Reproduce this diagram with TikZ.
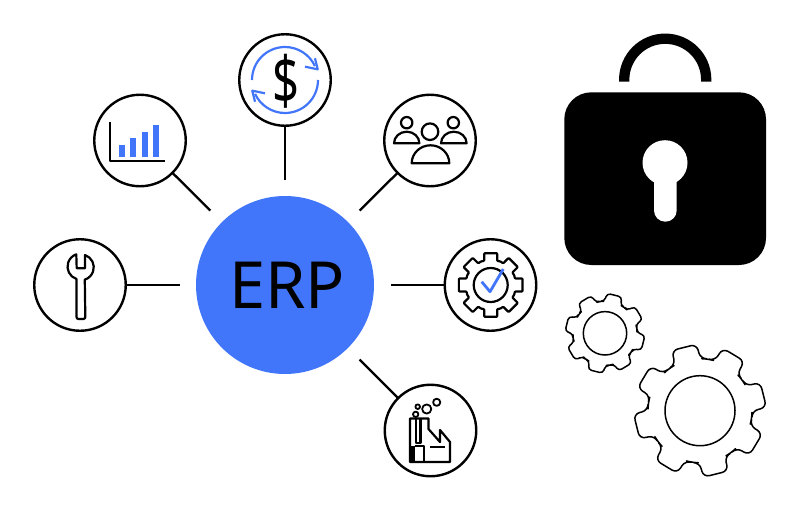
\documentclass[tikz,border=0pt]{standalone}
\usepackage{fontspec}
\setmainfont{Noto Sans}
\definecolor{erpblue}{RGB}{66,118,250}
\tikzset{
  iconring/.style={circle,draw=black,line width=2.4pt,minimum size=91.5pt,inner sep=0pt,outer sep=0pt,fill=white},
  link/.style={line width=2.3pt,black},
  ink/.style={line width=2.2pt,black,line join=round},
  blueink/.style={line width=2.2pt,erpblue,line join=round},
  geartrace/.style={line width=1.5pt,black,line join=round},
}
% #1 centre, #2 offset angle, #3 root radius, #4 tip radius, #5 base half-angle, #6 tip half-angle, #7 corner, #8 style
\newcommand{\gearshape}[8]{%
  \draw[#8,shift={(#1)},rounded corners=#7pt]
    (#2-22.5:#3+0.5)
    \foreach \k in {0,...,6}{
      -- ({#2+45*\k-#5}:#3) -- ({#2+45*\k-#6}:#4) -- ({#2+45*\k+#6}:#4) -- ({#2+45*\k+#5}:#3) -- ({#2+45*\k+22.5}:#3+0.5)
    }
    -- ({#2+315-#5}:#3) -- ({#2+315-#6}:#4) -- ({#2+315+#6}:#4) -- ({#2+315+#5}:#3) -- cycle;
}
\begin{document}
\begin{tikzpicture}[x=1pt,y=-1pt]
\useasboundingbox (0,0) rectangle (800,511);
% hub
\node[circle,fill=erpblue,minimum size=178pt,inner sep=0pt,outer sep=0pt] (erp) at (285,285) {};
\node[inner sep=0pt,font=\fontsize{65}{65}\selectfont,text=black] (erplabel) at (287,285) {ERP};
\node[circle,minimum size=211pt,inner sep=0pt,outer sep=0pt] (gap) at (285,285) {};
% rings
\node[iconring] (wrench) at (80,285) {};
\node[iconring] (chart) at (140,140.5) {};
\node[iconring] (dollar) at (285,80) {};
\node[iconring] (people) at (430,140.5) {};
\node[iconring] (cog) at (490.5,285) {};
\node[iconring] (factory) at (430.5,430.5) {};
% connectors
\draw[link] (wrench) -- (gap);
\draw[link] (chart) -- (gap);
\draw[link] (dollar) -- (gap);
\draw[link] (people) -- (gap);
\draw[link] (cog) -- (gap);
\draw[link] (factory) -- (gap);
% wrench icon
\draw[ink] (85,255) arc[start angle=-71,end angle=72,radius=13] -- (85.3,317) arc[start angle=0,end angle=90,radius=2] -- (78.5,319) arc[start angle=90,end angle=180,radius=2] -- (76.5,279) arc[start angle=108,end angle=251,radius=13] -- (76.7,268.3) -- (85,268.3) -- cycle;
% chart icon
\draw[ink,line cap=butt] (110,122.3) -- (110,161) -- (165,161);
\foreach \xa/\t in {119/145,130.3/138.3,141.7/131.7,153/125}{
  \fill[erpblue] (\xa,\t) rectangle (\xa+6,157);
}
% dollar icon
\node[inner sep=0pt] (dollarsign) at (285.5,81) {\scalebox{0.98}[1.38]{\fontsize{48}{48}\selectfont\$}};
\draw[blueink] (252,80) arc[start angle=180,end angle=335,radius=33];
\draw[blueink] (318,80) arc[start angle=0,end angle=155,radius=33];
\draw[blueink] (315,58.3) -- (317.7,69.3) -- (305,66.7);
\draw[blueink] (255,101.7) -- (252.3,90.7) -- (265,93.3);
% people icon
\draw[ink] (430,131.7) circle[radius=8.3];
\draw[ink] (411.7,163.3) arc[start angle=180,end angle=360,x radius=18.8,y radius=18] -- cycle;
\draw[ink] (406.7,122.7) circle[radius=5.7];
\draw[ink] (394,143.3) arc[start angle=180,end angle=360,x radius=12.7,y radius=11.6] -- cycle;
\draw[ink] (453.3,122.7) circle[radius=5.7];
\draw[ink] (441,143.3) arc[start angle=180,end angle=360,x radius=12.8,y radius=11.6] -- cycle;
% cog icon
\gearshape{490.7,285}{-90}{25}{32.5}{15}{11.5}{0.8}{ink}
\draw[ink] (490.7,285) circle[radius=17];
\draw[blueink,line width=2.8pt] (481.7,281.7) -- (490,291.7) -- (503.3,269);
% factory icon
\draw[ink] (410,462) -- (410,418.5) -- (428.5,418.5) -- (428.5,429) -- (440,442) -- (440,430) -- (450,442) -- (450,462) -- cycle;
\draw[ink] (416,418.5) -- (416,443) -- (420.5,443) -- (420.5,418.5);
\fill[black] (410,446) rectangle (414.5,462);
\draw[ink] (414.5,446) -- (424,446) -- (424,462);
\draw[ink] (430,447) -- (445,447);
\draw[ink,line width=1.8pt] (436.7,402.3) circle[radius=3.6];
\draw[ink,line width=1.8pt] (426.7,409) circle[radius=4.6];
\draw[ink,line width=1.8pt] (417.7,406.7) circle[radius=2.3];
\draw[ink,line width=1.8pt] (415.7,414.3) circle[radius=2.7];
% lock
\fill[black,rounded corners=27pt] (564.3,92.3) rectangle (766,265);
\draw[black,line width=10.3pt] (624.2,81.7) -- (624.2,79.7) arc[start angle=180,end angle=360,radius=41] -- (706.2,81.7);
\fill[white] (665,162.7) circle[radius=22.5];
\fill[white,rounded corners=11.3pt] (654,170) rectangle (676.7,221.7);
% right-hand gears
\gearshape{605,333.3}{-76}{32}{40}{15}{11}{3.5}{geartrace}
\draw[geartrace] (605,333.3) circle[radius=21.7];
\gearshape{700,410.7}{-104}{52}{66.5}{14.5}{11}{6}{geartrace}
\draw[geartrace] (700,410.7) circle[radius=35];
\end{tikzpicture}
\end{document}
